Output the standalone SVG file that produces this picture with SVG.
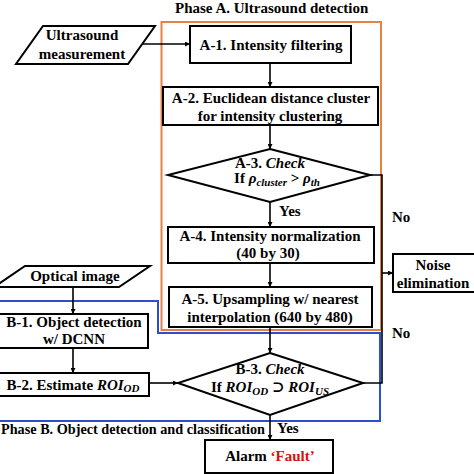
<svg xmlns="http://www.w3.org/2000/svg" width="474" height="474" viewBox="0 0 474 474">
<defs>
<marker id="ah" viewBox="0 0 10 10" refX="10" refY="5" markerWidth="5" markerHeight="5" orient="auto" markerUnits="userSpaceOnUse">
<path d="M0,0 L10,5 L0,10 z" fill="#000"/>
</marker>
<style>
.box{fill:#fff;stroke:#000;stroke-width:2}
text{font-family:"Liberation Serif","Times New Roman","DejaVu Serif",serif;font-weight:bold;font-size:15px;fill:#000}
.t{text-anchor:middle}
.m{font-style:italic}
.c{fill:none;stroke:#000;stroke-width:1.6}
.ca{fill:none;stroke:#000;stroke-width:1.6;marker-end:url(#ah)}
</style>
</defs>
<rect width="474" height="474" fill="#fff"/>
<g id="phaseA">
<rect x="161.5" y="22" width="219.5" height="308" fill="none" stroke="#E8803E" stroke-width="2"/>
<text x="175" y="13">Phase A. Ultrasound detection</text>
</g>
<g id="phaseB">
<path d="M-5,301 H158 V333 H380 V421 H-5" fill="none" stroke="#2C4FCF" stroke-width="2"/>
<text x="1" y="434" textLength="264" lengthAdjust="spacingAndGlyphs">Phase B. Object detection and classification</text>
</g>
<g id="connectors">
<line class="ca" x1="142" y1="44" x2="190" y2="44"/>
<line class="ca" x1="270" y1="63" x2="270" y2="87"/>
<line class="ca" x1="270" y1="125" x2="270" y2="149"/>
<line class="ca" x1="270" y1="202" x2="270" y2="227"/>
<line class="ca" x1="270" y1="263" x2="270" y2="287"/>
<line class="ca" x1="270" y1="327" x2="270" y2="353"/>
<line class="ca" x1="270" y1="415" x2="270" y2="440"/>
<line class="ca" x1="73" y1="287" x2="73" y2="314"/>
<line class="ca" x1="73" y1="348" x2="73" y2="373"/>
<line class="ca" x1="149" y1="383" x2="178" y2="383"/>
<polyline class="c" points="370,175 382,175 382,383 363,383"/>
<line class="ca" x1="382" y1="273" x2="393" y2="273"/>
<text x="279" y="216">Yes</text>
<text x="392" y="222">No</text>
<text x="392" y="338">No</text>
<text x="277" y="433">Yes</text>
</g>
<g id="ultrasound">
<polygon class="box" points="43,26 155,26 128,64 16,64"/>
<text class="t" x="82" y="40">Ultrasound</text>
<text class="t" x="82" y="59">measurement</text>
</g>
<g id="A1">
<rect class="box" x="190" y="26" width="161" height="37"/>
<text class="t" x="271" y="50">A-1. Intensity filtering</text>
</g>
<g id="A2">
<rect class="box" x="163" y="87" width="215" height="38"/>
<text class="t" x="271" y="103">A-2. Euclidean distance cluster</text>
<text class="t" x="270" y="121">for intensity clustering</text>
</g>
<g id="A3">
<polygon class="box" points="270,149 370,175 270,202 168,175"/>
<text class="t" x="270" y="168">A-3. <tspan class="m">Check</tspan></text>
<text class="t" x="277" y="183">If <tspan class="m">ρ<tspan font-size="11" dy="3">cluster</tspan></tspan><tspan dy="-3"> &gt; </tspan><tspan class="m">ρ<tspan font-size="11" dy="3">th</tspan></tspan></text>
</g>
<g id="A4">
<rect class="box" x="168" y="227" width="206" height="36"/>
<text class="t" x="270" y="241">A-4. Intensity normalization</text>
<text class="t" x="268" y="258">(40 by 30)</text>
</g>
<g id="A5">
<rect class="box" x="169" y="287" width="203" height="40"/>
<text class="t" x="270" y="304">A-5. Upsampling w/ nearest</text>
<text class="t" x="270" y="322">interpolation (640 by 480)</text>
</g>
<g id="noise">
<rect class="box" x="393" y="254" width="95" height="38"/>
<text class="t" x="433" y="270">Noise</text>
<text class="t" x="433" y="288">elimination</text>
</g>
<g id="optical">
<polygon class="box" points="25,266 150,266 119,287 -6,287"/>
<text class="t" x="75" y="281">Optical image</text>
</g>
<g id="B1">
<rect class="box" x="-2" y="314" width="150" height="34"/>
<text class="t" x="74" y="327">B-1. Object detection</text>
<text class="t" x="74" y="344">w/ DCNN</text>
</g>
<g id="B2">
<rect class="box" x="-2" y="373" width="151" height="23"/>
<text class="t" x="73" y="390">B-2. Estimate <tspan class="m">ROI<tspan font-size="11" dy="2">OD</tspan></tspan></text>
</g>
<g id="B3">
<polygon class="box" points="270,353 363,383 270,415 178,383"/>
<text class="t" x="270" y="374">B-3. <tspan class="m">Check</tspan></text>
<text class="t" x="270" y="392">If <tspan class="m">ROI<tspan font-size="11" dy="3">OD</tspan></tspan><tspan dy="-3"> ⊃ </tspan><tspan class="m">ROI<tspan font-size="11" dy="3">US</tspan></tspan></text>
</g>
<g id="alarm">
<rect class="box" x="205" y="440" width="128" height="33"/>
<text class="t" x="270" y="461">Alarm <tspan fill="#D81010">‘Fault’</tspan></text>
</g>
</svg>
